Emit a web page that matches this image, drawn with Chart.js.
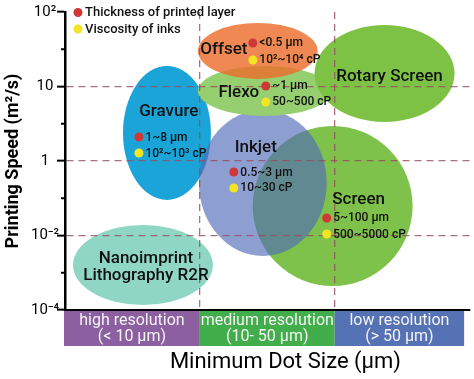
<!DOCTYPE html>
<html><head><meta charset="utf-8">
<script src="https://cdn.jsdelivr.net/npm/chart.js@4.4.0/dist/chart.umd.min.js"></script>
<style>html,body{margin:0;padding:0;background:#fff;}canvas{display:block;}</style>
</head><body>
<canvas id="c" width="474" height="379"></canvas>
<script>
// ---- data ----
const yTickLabels = ['10⁻⁴','10⁻²','1','10','10²'];
const yTitle = 'Printing Speed (m²/s)';
const xTitle = 'Minimum Dot Size (μm)';
const bandNames = ['high resolution','medium resolution','low resolution'];
const bandRanges = ['(< 10 μm)','(10- 50 μm)','(> 50 μm)'];
const bandEdges = [0, 1, 2, 2.96];
const legendNames = ['Thickness of printed layer','Viscosity of inks'];

const processes = ['Nanoimprint\nLithography R2R','Gravure','Screen','Inkjet','Flexo','Rotary Screen','Offset'];
const procCenterX = [0.578, 0.756, 1.985, 1.467, 1.481, 2.370, 1.430];
const procCenterY = [0.604, 2.376, 1.396, 1.705, 2.940, 3.174, 3.477];
const procSpreadX = [0.519, 0.326, 0.593, 0.474, 0.496, 0.519, 0.444];
const procSpreadY = [0.537, 0.899, 1.074, 0.980, 0.336, 0.651, 0.376];
const nameX = [0.600, 0.770, 2.178, 1.415, 1.289, 2.407, 1.178];
const nameY = [0.577, 2.658, 1.477, 2.174, 2.913, 3.128, 3.490];

const valueProcs = ['Gravure','Offset','Flexo','Inkjet','Screen'];
const thicknessText = ['1~8 μm','<0.5 μm','~1 μm','0.5~3 μm','5~100 μm'];
const viscosityText = ['10²~10³ cP','10²~10⁴ cP','50~500 cP','10~30 cP','500~5000 cP'];
const dotX = [0.548, 1.393, 1.489, 1.252, 1.941];
const thicknessY = [2.322, 3.584, 3.007, 1.852, 1.235];
const viscosityY = [2.107, 3.356, 2.792, 1.638, 1.020];

// ---- styles ----
const FF = 'Roboto, "Noto Sans", sans-serif';
const procFill = ['#8fd6c5','#1ba4d8','#7ec24b','rgba(80,106,183,0.65)','#95cf6f','#7ec245','rgba(235,110,45,0.82)'];
const bandFill = ['#8c5fa0','#42ae4b','#5573b4'];
const RED = '#cf3838', YEL = '#f3e524';
const DASH = 'rgba(150,75,95,0.8)';

const plugin = {
  id: 'techmap',
  beforeDraw(chart) {
    const {ctx, scales: {x, y}} = chart;
    ctx.save();
    for (let i = 0; i < processes.length; i++) {
      const cx = x.getPixelForValue(procCenterX[i]);
      const cy = y.getPixelForValue(procCenterY[i]);
      const rx = Math.abs(x.getPixelForValue(procCenterX[i] + procSpreadX[i]) - cx);
      const ry = Math.abs(y.getPixelForValue(procCenterY[i] + procSpreadY[i]) - cy);
      ctx.beginPath();
      ctx.ellipse(cx, cy, rx, ry, 0, 0, Math.PI * 2);
      ctx.fillStyle = procFill[i];
      ctx.fill();
    }
    ctx.restore();
  },
  afterDatasetsDraw(chart) {
    const {ctx, scales: {x, y}} = chart;
    ctx.save();
    ctx.fillStyle = '#111';
    ctx.textBaseline = 'middle';
    ctx.textAlign = 'center';
    for (let i = 0; i < processes.length; i++) {
      const lines = processes[i].split('\n');
      const px = x.getPixelForValue(nameX[i]);
      const py = y.getPixelForValue(nameY[i]);
      ctx.font = '500 17px ' + FF;
      lines.forEach((ln, k) => {
        ctx.fillText(ln, px, py + (k - (lines.length - 1) / 2) * 17.5);
      });
    }
    ctx.textAlign = 'left';
    ctx.font = '500 12px ' + FF;
    for (let i = 0; i < valueProcs.length; i++) {
      const px = x.getPixelForValue(dotX[i]) + 6.5;
      ctx.fillText(thicknessText[i], px, y.getPixelForValue(thicknessY[i]) + 0.5);
      ctx.fillText(viscosityText[i], px, y.getPixelForValue(viscosityY[i]) + 0.5);
    }
    ctx.restore();
  },
  afterDraw(chart) {
    const {ctx, chartArea: ca, scales: {x, y}} = chart;
    ctx.save();
    ctx.strokeStyle = '#000';
    ctx.lineWidth = 2;
    for (let v = 0.5; v < 4; v += 1) {
      const py = y.getPixelForValue(v);
      ctx.beginPath(); ctx.moveTo(ca.left - 4, py); ctx.lineTo(ca.left, py); ctx.stroke();
    }
    const bTop = ca.bottom + 1, bH = 35;
    for (let i = 0; i < bandNames.length; i++) {
      const x0 = x.getPixelForValue(bandEdges[i]) - (i === 0 ? 1 : 0);
      const x1 = x.getPixelForValue(bandEdges[i + 1]);
      ctx.fillStyle = bandFill[i];
      ctx.fillRect(x0, bTop, x1 - x0, bH);
      ctx.fillStyle = '#f4f4f4';
      ctx.textAlign = 'center';
      ctx.textBaseline = 'middle';
      ctx.font = '16px ' + FF;
      const cx = (x0 + x1) / 2;
      ctx.fillText(bandNames[i], cx, bTop + 10);
      ctx.fillText(bandRanges[i], cx, bTop + 26);
    }
    ctx.fillStyle = '#000';
    ctx.font = '22px ' + FF;
    ctx.textAlign = 'center';
    ctx.fillText(xTitle, ca.left + (ca.right - ca.left) * 0.545, 362);
    ctx.textAlign = 'left';
    ctx.font = '500 13px ' + FF;
    const lx = ca.left + 13;
    [[RED, ca.top + 0.5], [YEL, ca.top + 17]].forEach(([col, ly], k) => {
      ctx.beginPath(); ctx.arc(lx, ly, 4.5, 0, Math.PI * 2); ctx.fillStyle = col; ctx.fill();
      ctx.fillStyle = '#111';
      ctx.fillText(legendNames[k], lx + 7, ly + 0.5);
    });
    ctx.restore();
  }
};

new Chart(document.getElementById('c'), {
  type: 'scatter',
  data: {
    datasets: [
      { label: legendNames[0], data: dotX.map((v, i) => ({x: v, y: thicknessY[i]})),
        pointRadius: 4.5, pointBorderWidth: 0, pointBackgroundColor: RED, clip: false },
      { label: legendNames[1], data: dotX.map((v, i) => ({x: v, y: viscosityY[i]})),
        pointRadius: 4.5, pointBorderWidth: 0, pointBackgroundColor: YEL, clip: false }
    ]
  },
  options: {
    responsive: false,
    animation: false,
    events: [],
    layout: { padding: { top: 12, right: 4, left: 0, bottom: 0 } },
    plugins: { legend: { display: false }, tooltip: { enabled: false } },
    scales: {
      x: {
        type: 'linear', min: 0, max: 3,
        ticks: { display: false, stepSize: 1 },
        grid: { drawTicks: false, lineWidth: 1.3,
          color: c => (c.tick && (c.tick.value === 1 || c.tick.value === 2)) ? DASH : 'rgba(0,0,0,0)' },
        border: { color: '#000', width: 2, dash: [7, 5] },
        title: { display: false },
        afterFit: s => { s.height = 69; }
      },
      y: {
        type: 'linear', min: 0, max: 4,
        ticks: { stepSize: 1, padding: -2, crossAlign: 'center', color: '#000',
          font: { family: FF, size: 15 },
          callback: v => yTickLabels[v] },
        grid: { lineWidth: 1.3, tickLength: 8, tickWidth: 2, tickColor: '#000',
          color: c => (c.tick && c.tick.value > 0 && c.tick.value < 4) ? DASH : 'rgba(0,0,0,0)' },
        border: { color: '#000', width: 2.5, dash: [7, 5] },
        title: { display: true, text: yTitle, color: '#000',
          font: { family: FF, size: 18, weight: 'bold' }, padding: { top: 3, bottom: 0 } },
        afterFit: s => { s.width = 65; }
      }
    }
  },
  plugins: [plugin]
});
</script>
</body></html>
